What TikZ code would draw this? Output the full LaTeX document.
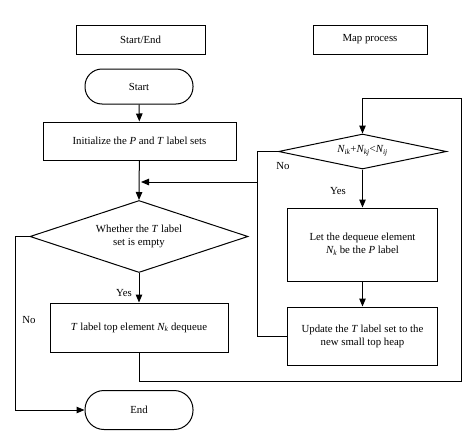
\documentclass[tikz,border=0pt]{standalone}
\usepackage{fontspec}
\setmainfont{Liberation Serif}
\usetikzlibrary{arrows.meta,shapes.geometric}
\begin{document}
\begin{tikzpicture}[x=1pt,y=-1pt,
  every node/.style={font=\fontsize{10.8}{13}\selectfont},
  line width=1pt,
  box/.style={draw,rectangle,inner sep=0pt,align=center},
  term/.style={draw,rectangle,rounded corners=17pt,inner sep=0pt,align=center},
  lbl/.style={inner sep=1pt},
  arr/.style={-{Triangle[length=8pt,width=6.5pt]}}]
\useasboundingbox (0,0) rectangle (474,442);
% legend boxes
\node[box,minimum width=129pt,minimum height=29pt] (leg1) at (140.5,39.5) {Start/End};
\node[box,minimum width=114pt,minimum height=29pt] (leg2) at (370,39.5) {Map process};
% left column
\node[term,minimum width=108pt,minimum height=35pt] (start) at (139,86.5) {Start};
\node[box,minimum width=193pt,minimum height=38pt] (init) at (139.5,141) {Initialize the \textit{P} and \textit{T} label sets};
\node[draw,diamond,inner sep=0pt,minimum width=218pt,minimum height=72pt,shape aspect=3] (empty) at (139,236.5) {};
\node[align=center] (emptytxt) at (139,236) {Whether the \textit{T} label\\set is empty};
\node[box,minimum width=178pt,minimum height=49pt] (deq) at (139,327.5) {\textit{T} label top element \textit{N\textsubscript{k}} dequeue};
\node[term,rounded corners=19pt,minimum width=108pt,minimum height=39pt] (end) at (139,410) {End};
% right column
\node[draw,diamond,inner sep=0pt,minimum width=168pt,minimum height=35pt,shape aspect=4.8] (cond) at (362.5,151.5) {};
\node (condtxt) at (362.5,151) {\textit{N\textsubscript{ik}}+\textit{N\textsubscript{kj}}<\textit{N\textsubscript{ij}}};
\node[box,minimum width=150pt,minimum height=73pt] (letp) at (362.5,244.5) {Let the dequeue element\\\textit{N\textsubscript{k}} be the \textit{P} label};
\node[box,minimum width=150pt,minimum height=58pt] (upd) at (362.5,336) {Update the \textit{T} label set to the\\new small top heap};
% coordinates
\coordinate (lx1) at (15,236.5);
\coordinate (lx2) at (15,410);
\coordinate (b1) at (139,381);
\coordinate (b2) at (461,381);
\coordinate (b3) at (461,98);
\coordinate (b4) at (362.5,98);
\coordinate (n1) at (257,151.5);
\coordinate (n2) at (257,336);
\coordinate (n3) at (257,182);
\coordinate (m0) at (141,182);
% connectors
\draw[arr] (start) -- (init);
\draw[arr] (init) -- (empty.north);
\draw[arr] (empty.south) -- (deq);
\draw[arr] (empty.west) -- (lx1) -- (lx2) -- (end.west);
\draw[arr] (deq.south) -- (b1) -- (b2) -- (b3) -- (b4) -- (cond.north);
\draw[arr] (cond.south) -- (letp.north);
\draw[arr] (letp.south) -- (upd.north);
\draw (cond.west) -- (n1) -- (n2) -- (upd.west);
\draw[arr] (n3) -- (m0);
% labels
\node[lbl] (no1) at (29,320) {No};
\node[lbl] (yes1) at (124,293) {Yes};
\node[lbl] (no2) at (283,166) {No};
\node[lbl] (yes2) at (338,191) {Yes};
\end{tikzpicture}
\end{document}
